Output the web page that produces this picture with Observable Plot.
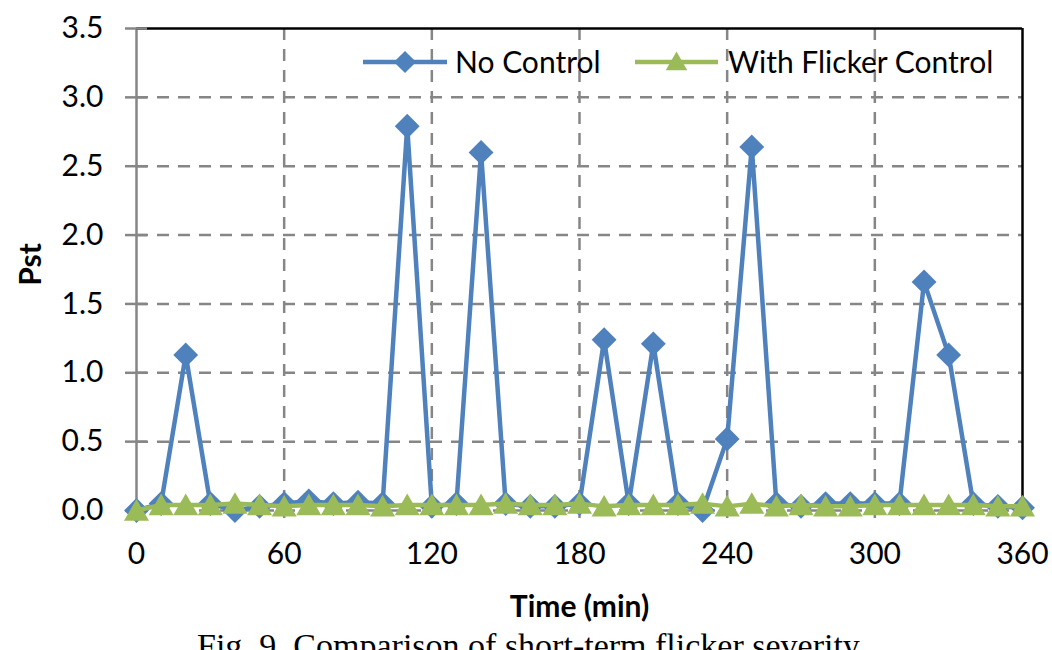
<!DOCTYPE html>
<html>
<head>
<meta charset="utf-8">
<script src="https://cdn.jsdelivr.net/npm/d3@7"></script>
<script src="https://cdn.jsdelivr.net/npm/@observablehq/plot@0.6"></script>
<style>
  html, body { margin: 0; padding: 0; background: #fff; }
  #wrap { position: relative; width: 1052px; height: 650px; overflow: hidden; }
  #legend { position: absolute; left: 0; top: 0; pointer-events: none; }
  #caption { position: absolute; left: 197px; top: 629px; font-family: "Liberation Serif", "Times New Roman", serif; font-size: 34px; line-height: 1; white-space: nowrap; color: #000; }
</style>
</head>
<body>
<div id="wrap"></div>
<script>
// ---- data ----
const times = [0,10,20,30,40,50,60,70,80,90,100,110,120,130,140,150,160,170,180,190,200,210,220,230,240,250,260,270,280,290,300,310,320,330,340,350,360];
const noControl = [0.00,0.05,1.13,0.05,0.00,0.03,0.05,0.07,0.05,0.06,0.05,2.79,0.03,0.05,2.60,0.05,0.03,0.03,0.05,1.24,0.05,1.21,0.05,0.00,0.52,2.64,0.05,0.03,0.05,0.05,0.05,0.05,1.66,1.13,0.05,0.03,0.02];
const withFlicker = [0.00,0.04,0.04,0.04,0.05,0.04,0.03,0.04,0.04,0.04,0.03,0.04,0.04,0.04,0.04,0.05,0.04,0.04,0.05,0.03,0.04,0.04,0.04,0.05,0.03,0.05,0.03,0.04,0.03,0.03,0.04,0.04,0.04,0.04,0.04,0.03,0.03];
const seriesNames = ["No Control", "With Flicker Control"];
const xTicks = [0,60,120,180,240,300,360];
const xGrid = [60,120,180,240,300];
const yTicks = [0,0.5,1.0,1.5,2.0,2.5,3.0,3.5];
const yGrid = [0,0.5,1.0,1.5,2.0,2.5,3.0];
const xTitle = "Time (min)";
const yTitle = "Pst";
const captionText = "Fig. 9. Comparison of short-term flicker severity";

const blue = "#4F81BD", green = "#9BBB59", grey = "#868686";
const font = "Lato, 'Open Sans', sans-serif";

const blueData = times.map((t, i) => ({t, v: noControl[i]}));
const greenData = times.map((t, i) => ({t, v: withFlicker[i]}));

const W = 1052, H = 632;
const dash = "12,9";

const chart = Plot.plot({
  width: W, height: H,
  marginLeft: 136, marginRight: 30, marginTop: 28, marginBottom: H - 510,
  x: {domain: [0, 360], axis: null},
  y: {domain: [0, 3.5], axis: null},
  style: {fontFamily: font, fontSize: "30px", color: "#000", background: "#fff", overflow: "visible"},
  marks: [
    Plot.gridY(yGrid, {stroke: grey, strokeOpacity: 1, strokeWidth: 2.5, strokeDasharray: dash}),
    Plot.gridX(xGrid, {stroke: grey, strokeOpacity: 1, strokeWidth: 2.5, strokeDasharray: dash}),
    Plot.ruleX([0], {stroke: grey, strokeWidth: 2.5}),
    Plot.ruleY([3.5], {stroke: "#000", strokeWidth: 2.5}),
    Plot.ruleX([360], {stroke: "#000", strokeWidth: 2.5}),
    // y tick marks (cross style)
    Plot.axisY(yTicks, {tickSize: 22, dx: 11, tickFormat: () => "", stroke: grey, strokeWidth: 2.5, label: null}),
    // y tick labels
    Plot.axisY(yTicks, {tickSize: 0, tickPadding: 33, tickFormat: d => d.toFixed(1), fontSize: 30, label: null}),
    // x tick marks
    Plot.axisX(xTicks, {tickSize: 8, tickFormat: () => "", stroke: grey, strokeWidth: 2.5, label: null}),
    // x tick labels
    Plot.axisX(xTicks, {tickSize: 0, tickPadding: 32, tickFormat: d => String(d), fontSize: 30, label: null}),
    // axis titles
    Plot.text([xTitle], {frameAnchor: "bottom", lineAnchor: "middle", dy: 97, fontWeight: "bold", fontSize: 30}),
    Plot.text([yTitle], {frameAnchor: "left", textAnchor: "middle", lineAnchor: "middle", dx: -105, dy: -5, rotate: -90, fontWeight: "bold", fontSize: 30}),
    // series
    Plot.line(blueData, {x: "t", y: "v", stroke: blue, strokeWidth: 4.5, strokeLinejoin: "round"}),
    Plot.dot(blueData, {x: "t", y: "v", symbol: "diamond2", r: 11.2, fill: blue, stroke: null}),
    Plot.line(greenData, {x: "t", y: "v", stroke: green, strokeWidth: 4.5, strokeLinejoin: "round"}),
    Plot.dot(greenData, {x: "t", y: "v", symbol: "triangle", r: 9.3, dy: 3, fill: green, stroke: null})
  ]
});

const wrap = document.getElementById("wrap");
wrap.appendChild(chart);

// legend (overlay inside the plot area, top)
const legendSvg = d3.create("svg").attr("id", "legend").attr("width", W).attr("height", 110);
const items = [
  {name: seriesNames[0], color: blue, sym: d3.symbolDiamond2, size: Math.PI * 10 * 10, x0: 363, x1: 447, tx: 455, dy: 0},
  {name: seriesNames[1], color: green, sym: d3.symbolTriangle, size: Math.PI * 8 * 8, x0: 635, x1: 718, tx: 728, dy: 2}
];
const ly = 62;
for (const it of items) {
  legendSvg.append("line").attr("x1", it.x0).attr("x2", it.x1).attr("y1", ly).attr("y2", ly)
    .attr("stroke", it.color).attr("stroke-width", 4.5);
  legendSvg.append("path").attr("d", d3.symbol(it.sym, it.size)())
    .attr("transform", `translate(${(it.x0 + it.x1) / 2},${ly + it.dy})`).attr("fill", it.color);
  legendSvg.append("text").attr("x", it.tx).attr("y", ly).attr("dy", "0.35em")
    .attr("font-family", font).attr("font-size", 30).attr("fill", "#000").text(it.name);
}
wrap.appendChild(legendSvg.node());

const cap = document.createElement("div");
cap.id = "caption";
cap.textContent = captionText;
wrap.appendChild(cap);
</script>
</body>
</html>
